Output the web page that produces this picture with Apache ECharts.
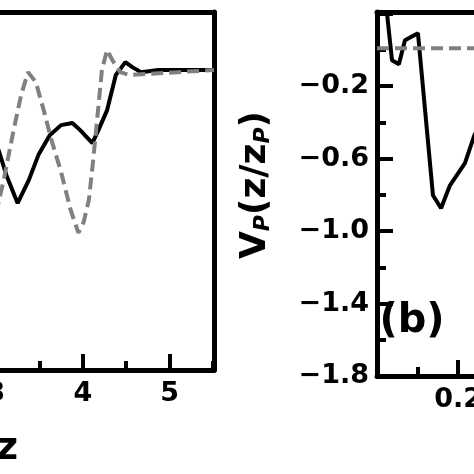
<!DOCTYPE html>
<html>
<head>
<meta charset="utf-8">
<script src="https://cdn.jsdelivr.net/npm/echarts@6/dist/echarts.min.js"></script>
<style>html,body{margin:0;padding:0;background:#fff}#c{width:474px;height:474px}</style>
</head>
<body>
<div id="c"></div>
<script>
// panel (a): z and potential values (solid = black, dashed = gray)
var zA = [2.70, 2.80, 2.89, 3.03, 3.12, 3.25, 3.38, 3.49, 3.62, 3.75, 3.88, 3.97, 4.11, 4.18, 4.28, 4.38, 4.49, 4.57, 4.67, 4.87, 5.51];
var vA = [0.634, 0.553, 0.601, 0.615, 0.545, 0.466, 0.531, 0.601, 0.656, 0.684, 0.690, 0.670, 0.634, 0.670, 0.726, 0.824, 0.860, 0.846, 0.832, 0.838, 0.838];
var zA2 = [2.60, 2.80, 2.89, 2.99, 3.09, 3.20, 3.29, 3.37, 3.46, 3.55, 3.64, 3.75, 3.86, 3.95, 4.01, 4.07, 4.12, 4.17, 4.22, 4.28, 4.34, 4.43, 4.54, 5.51];
var vA2 = [0.500, 0.274, 0.313, 0.425, 0.531, 0.665, 0.768, 0.832, 0.804, 0.726, 0.642, 0.553, 0.447, 0.383, 0.413, 0.475, 0.587, 0.712, 0.838, 0.894, 0.866, 0.832, 0.824, 0.838];
var zA0 = [2.60]; var vA0 = [0.70];
// panel (b)
var zB = [0.02, 0.037, 0.054, 0.069, 0.101, 0.138, 0.158, 0.180, 0.217, 0.240, 0.26];
var vB = [0.30, -0.056, -0.078, 0.054, 0.093, -0.802, -0.874, -0.747, -0.625, -0.471, -0.38];
var zB2 = [0, 0.74];
var vB2 = [0.01, 0.01];

function pairs(x, y) { return x.map(function (v, i) { return [v, y[i]]; }); }

var font = 'DejaVu Sans';
var axisLine = { show: true, onZero: false, lineStyle: { color: '#000', width: 5 } };
var tick = { inside: true, length: 16, lineStyle: { width: 4, color: '#000' } };
var minor = { show: true, splitNumber: 2, length: 9, lineStyle: { width: 4, color: '#000' } };
var lab = { fontFamily: font, fontWeight: 'bold', fontSize: 27, color: '#000', margin: 10 };
function frame(grid, pos, min, max) {
  return { gridIndex: grid, type: 'value', position: pos, min: min, max: max, axisLine: axisLine,
    axisTick: { show: false }, axisLabel: { show: false }, splitLine: { show: false } };
}

var chart = echarts.init(document.getElementById('c'));
chart.setOption({
  animation: false,
  grid: [
    { left: -91, top: 12, width: 305, height: 358, outerBoundsMode: 'none', containLabel: false },
    { left: 377, top: 12, width: 300, height: 364, outerBoundsMode: 'none', containLabel: false }
  ],
  xAxis: [
    {
      gridIndex: 0, type: 'value', min: 2, max: 5.51, interval: 1,
      axisLine: axisLine, axisTick: tick, minorTick: minor, splitLine: { show: false },
      axisLabel: Object.assign({ showMaxLabel: false }, lab)
    },
    {
      gridIndex: 1, type: 'value', min: 0, max: 0.74, interval: 0.2,
      axisLine: axisLine, axisTick: tick, minorTick: minor, splitLine: { show: false },
      axisLabel: Object.assign({ showMinLabel: false, showMaxLabel: false }, lab)
    },
    frame(0, 'top', 2, 5.51),
    frame(1, 'top', 0, 0.74)
  ],
  yAxis: [
    {
      gridIndex: 0, type: 'value', min: 0, max: 1,
      axisLine: axisLine, axisTick: { show: false }, axisLabel: { show: false }, splitLine: { show: false }
    },
    {
      gridIndex: 1, type: 'value', min: -1.8, max: 0.21, interval: 0.4,
      axisLine: axisLine, axisTick: tick, minorTick: minor, splitLine: { show: false },
      axisLabel: Object.assign({}, lab, {
        margin: 8, showMaxLabel: false,
        formatter: function (v) { return v < 0 ? '\u2212' + Math.abs(v).toFixed(1) : ''; }
      })
    },
    frame(0, 'right', 0, 1)
  ],
  series: [
    { type: 'line', xAxisIndex: 0, yAxisIndex: 0, data: pairs(zA0.concat(zA), vA0.concat(vA)), symbol: 'none', lineStyle: { color: '#000', width: 4 }, z: 3 },
    { type: 'line', xAxisIndex: 0, yAxisIndex: 0, data: pairs(zA2, vA2), symbol: 'none', lineStyle: { color: '#808080', width: 4, type: [12, 6] }, z: 4 },
    { type: 'line', xAxisIndex: 1, yAxisIndex: 1, data: pairs(zB, vB), symbol: 'none', lineStyle: { color: '#000', width: 4 }, z: 3, clip: true },
    { type: 'line', xAxisIndex: 1, yAxisIndex: 1, data: pairs(zB2, vB2), symbol: 'none', lineStyle: { color: '#808080', width: 4, type: [12, 6] }, z: 4 }
  ],
  graphic: [
    { type: 'text', left: -4, top: 430, style: { text: 'z', font: 'bold 38px "DejaVu Sans"', fill: '#000' } },
    { type: 'text', x: 412, y: 322, style: { text: '(b)', font: 'bold 40px "DejaVu Sans"', fill: '#000', align: 'center', verticalAlign: 'middle' } },
    {
      type: 'text', x: 256, y: 185, rotation: Math.PI / 2,
      style: {
        text: '{a|V}{s|P}{a|(z/z}{s|P}{a|)}', align: 'center', verticalAlign: 'middle',
        rich: {
          a: { font: 'bold 36px "DejaVu Sans"', fill: '#000' },
          s: { font: 'bold italic 22px "DejaVu Sans"', fill: '#000', padding: [14, 0, 0, 0] }
        }
      }
    }
  ]
});
</script>
</body>
</html>
